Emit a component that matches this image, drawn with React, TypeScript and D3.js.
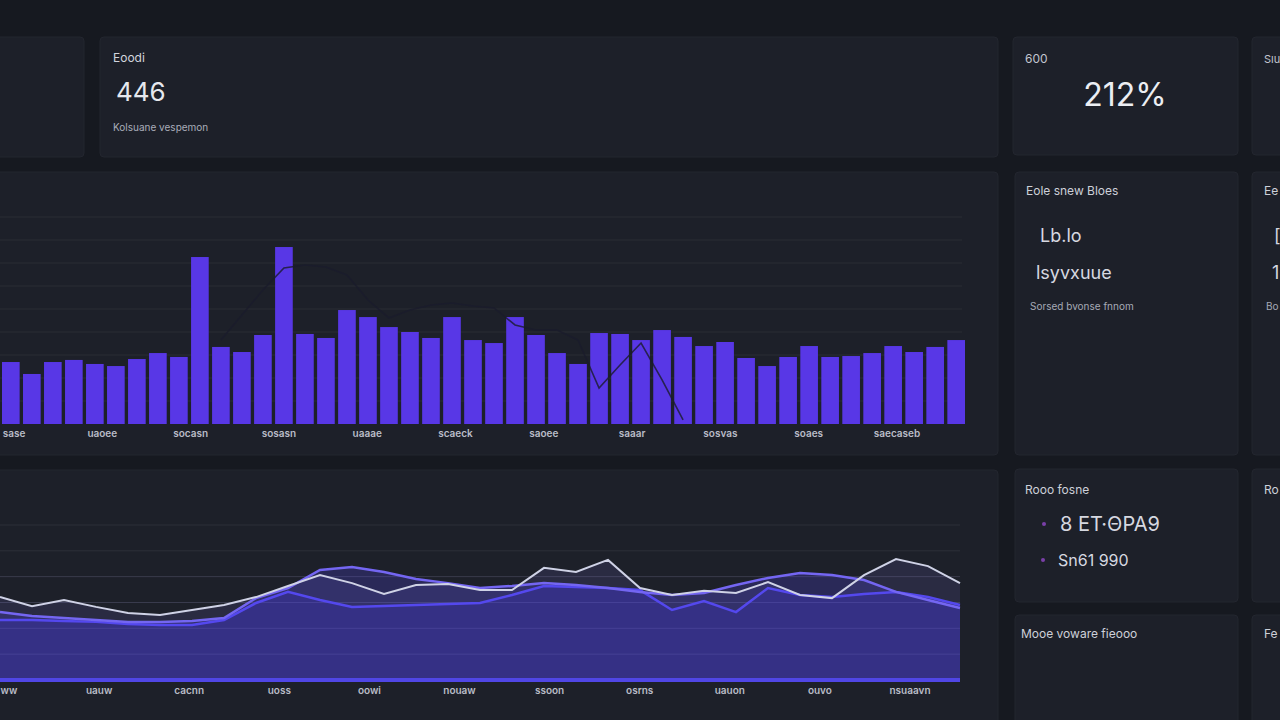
import React from "react";
import { scaleBand, scaleLinear, scalePoint, line, area, curveLinear } from "d3";

// Bar panel data
const barValues = [
  53.9, 43.5, 53.9, 55.7, 52.2, 50.4, 56.5, 61.7, 58.3, 145.2, 67, 62.6, 77.4, 153.9, 78.3, 74.8,
  99.1, 93, 84.3, 80, 74.8, 93, 73, 70.4, 93, 77.4, 61.7, 52.2, 79.1, 78.3, 73, 81.7, 75.7, 67.8,
  71.3, 57.4, 50.4, 58.3, 67.8, 58.3, 59.1, 61.7, 67.8, 62.6, 67, 73,
];
// faint dark trend line drawn over the bars (null = not drawn)
const trendValues: (number | null)[] = [
  null, null, null, null, null, null, null, null, null, null, 73, 94.8, 116.5, 135.7, 138.3, 136.5,
  129.6, 107.8, 92.2, 99.1, 103.5, 105.2, 102.6, 100.9, 86.1, 81.7, 81.7, 73, 31.3, 51.3, 70.4, 38.3,
  3.5, null, null, null, null, null, null, null, null, null, null, null, null, null,
];
const barLabels = ["sase", "uaoee", "socasn", "sosasn", "uaaae", "scaeck", "saoee", "saaar", "sosvas", "soaes", "saecaseb"];
const barTicks = [20, 40, 60, 80, 100, 120, 140, 160, 180];

// Area panel data
const whiteSeries = [
  32.1, 28.6, 31.0, 28.3, 25.9, 25.2, 27.1, 29.0, 32.1, 36.4, 40.6, 37.5, 33.3, 36.8, 37.2, 34.8,
  34.8, 43.4, 41.8, 46.5, 35.6, 32.9, 34.5, 33.7, 37.9, 32.9, 31.7, 40.6, 46.8, 44.1, 37.5,
];
const blueASeries = [
  26.3, 24.8, 24.0, 23.2, 22.5, 22.5, 22.8, 24.0, 31.7, 35.6, 42.6, 43.7, 41.8, 39.1, 37.5, 35.6,
  36.4, 37.5, 36.8, 35.6, 34.1, 32.9, 33.7, 36.8, 39.5, 41.4, 40.6, 38.7, 34.1, 31.0, 27.9,
];
const blueBSeries = [
  23.2, 23.2, 22.8, 22.5, 21.7, 21.3, 21.3, 23.2, 29.8, 34.1, 31.0, 28.3, 28.6, 29.0, 29.4, 29.8,
  32.9, 36.4, 36.0, 35.6, 34.8, 27.1, 30.6, 26.3, 35.6, 32.9, 32.1, 33.3, 34.1, 32.1, 29.0,
];
const areaLabels = ["ww", "uauw", "cacnn", "uoss", "oowi", "nouaw", "ssoon", "osrns", "uauon", "ouvo", "nsuaavn"];
const areaTicks = [10, 20, 30, 40, 50, 60];

const BG = "#161920";
const PANEL = "#1d2029";
const FONT = "Inter, 'DejaVu Sans', sans-serif";

function Panel({ x, y, w, h }: { x: number; y: number; w: number; h: number }) {
  return <rect x={x} y={y} width={w} height={h} rx={4} fill={PANEL} stroke="#23262f" strokeWidth={1} />;
}

export default function App() {
  // bar chart scales
  const xBar = scaleBand<number>()
    .domain(barValues.map((_, i) => i))
    .range([2, 965])
    .paddingInner(0.16)
    .paddingOuter(0);
  const yBar = scaleLinear().domain([0, 180]).range([424, 217]);
  const xBarLabel = scalePoint<string>().domain(barLabels).range([14, 897]);

  const trendLine = line<number | null>()
    .defined((d) => d !== null)
    .x((_, i) => xBar(i)! + xBar.bandwidth() / 2)
    .y((d) => yBar(d as number))
    .curve(curveLinear);

  // area chart scales
  const xArea = scaleLinear().domain([0, whiteSeries.length - 1]).range([0, 960]);
  const yArea = scaleLinear().domain([0, 60]).range([680, 525]);
  const xAreaLabel = scalePoint<string>().domain(areaLabels).range([9, 910]);

  const mkLine = line<number>().x((_, i) => xArea(i)).y((d) => yArea(d));
  const mkArea = area<number>().x((_, i) => xArea(i)).y0(yArea(0)).y1((d) => yArea(d));

  return (
    <div style={{ position: "fixed", left: 0, top: 0, width: 1280, height: 720 }}>
      <svg width={1280} height={720} style={{ display: "block", fontFamily: FONT }}>
        <rect width={1280} height={720} fill={BG} />

        {/* top row */}
        <Panel x={-10} y={37} w={94} h={120} />
        <Panel x={100} y={37} w={898} h={120} />
        <Panel x={1013} y={37} w={225} h={118} />
        <Panel x={1252} y={37} w={40} h={118} />
        <text x={113} y={62} fontSize={12} fill="#d2d5de">Eoodi</text>
        <text x={116} y={101} fontSize={26} fill="#e6e8ee">446</text>
        <text x={113} y={131} fontSize={10} fill="#a9adb9">Kolsuane vespemon</text>
        <text x={1025} y={63} fontSize={12} fill="#c2c5cf">600</text>
        <text x={1125} y={106} fontSize={32} fill="#eceef3" textAnchor="middle">212%</text>
        <text x={1264} y={63} fontSize={11} fill="#c2c5cf">Sıu</text>

        {/* middle row */}
        <Panel x={-10} y={172} w={1008} h={283} />
        <Panel x={1015} y={172} w={223} h={283} />
        <Panel x={1252} y={172} w={40} h={283} />

        {barTicks.map((t) => (
          <line key={t} x1={0} x2={962} y1={yBar(t)} y2={yBar(t)} stroke="#ffffff" strokeOpacity={0.06} />
        ))}
        {barValues.map((v, i) => (
          <rect
            key={i}
            x={xBar(i)}
            y={yBar(v)}
            width={xBar.bandwidth()}
            height={yBar(0) - yBar(v)}
            fill="#5837e6"
          />
        ))}
        <path d={trendLine(trendValues) ?? ""} fill="none" stroke="#1a1b2c" strokeWidth={1.6} strokeOpacity={0.8} />
        {barLabels.map((l) => (
          <text key={l} x={xBarLabel(l)} y={437} fontSize={10} fill="#b9bcc7" textAnchor="middle" fontWeight={600}>
            {l}
          </text>
        ))}

        <text x={1026} y={195} fontSize={12} fill="#cdd0d9">Eole snew Bloes</text>
        <text x={1040} y={242} fontSize={18} fill="#d6d8e0">Lb.lo</text>
        <text x={1036} y={279} fontSize={18} fill="#d6d8e0">lsyvxuue</text>
        <text x={1030} y={310} fontSize={10} fill="#a6aab6">Sorsed bvonse fnnom</text>
        <text x={1264} y={195} fontSize={12} fill="#cdd0d9">Ee</text>
        <text x={1274} y={242} fontSize={18} fill="#d6d8e0">[</text>
        <text x={1272} y={279} fontSize={18} fill="#d6d8e0">1</text>
        <text x={1266} y={310} fontSize={10} fill="#a6aab6">Bo</text>

        {/* bottom row */}
        <Panel x={-10} y={470} w={1008} h={260} />
        <Panel x={1015} y={469} w={223} h={133} />
        <Panel x={1015} y={615} w={223} h={115} />
        <Panel x={1252} y={469} w={40} h={133} />
        <Panel x={1252} y={615} w={40} h={115} />

        {areaTicks.map((t) => (
          <line key={t} x1={0} x2={960} y1={yArea(t)} y2={yArea(t)} stroke="#ffffff" strokeOpacity={0.07} />
        ))}
        <path d={mkArea(whiteSeries) ?? ""} fill="#6e68c8" fillOpacity={0.16} />
        <path d={mkArea(blueASeries) ?? ""} fill="#4a3fc8" fillOpacity={0.3} />
        <path d={mkArea(blueBSeries) ?? ""} fill="#3a30b0" fillOpacity={0.4} />
        {areaTicks.slice(0, 4).map((t) => (
          <line key={"o" + t} x1={0} x2={960} y1={yArea(t)} y2={yArea(t)} stroke="#9a96e8" strokeOpacity={0.12} />
        ))}
        <path d={mkLine(blueBSeries) ?? ""} fill="none" stroke="#5448ee" strokeWidth={2.5} />
        <path d={mkLine(blueASeries) ?? ""} fill="none" stroke="#7466f2" strokeWidth={2.5} />
        <path d={mkLine(whiteSeries) ?? ""} fill="none" stroke="#cfd2e6" strokeWidth={2} />
        <line x1={0} x2={960} y1={yArea(0)} y2={yArea(0)} stroke="#5046e6" strokeWidth={4} />
        {areaLabels.map((l) => (
          <text key={l} x={xAreaLabel(l)} y={694} fontSize={10} fill="#b9bcc7" textAnchor="middle" fontWeight={600}>
            {l}
          </text>
        ))}

        <text x={1025} y={494} fontSize={12} fill="#cdd0d9">Rooo fosne</text>
        <circle cx={1044} cy={524} r={2} fill="#7a3fa8" />
        <text x={1060} y={531} fontSize={20} fill="#d6d8e0">8 ET·ΘPA9</text>
        <circle cx={1043} cy={560} r={2} fill="#7a3fa8" />
        <text x={1058} y={566} fontSize={16} fill="#d6d8e0">Sn61 990</text>
        <text x={1021} y={638} fontSize={12} fill="#cdd0d9">Mooe voware fieooo</text>
        <text x={1264} y={494} fontSize={12} fill="#cdd0d9">Ro</text>
        <text x={1264} y={638} fontSize={12} fill="#cdd0d9">Fe</text>
      </svg>
    </div>
  );
}
